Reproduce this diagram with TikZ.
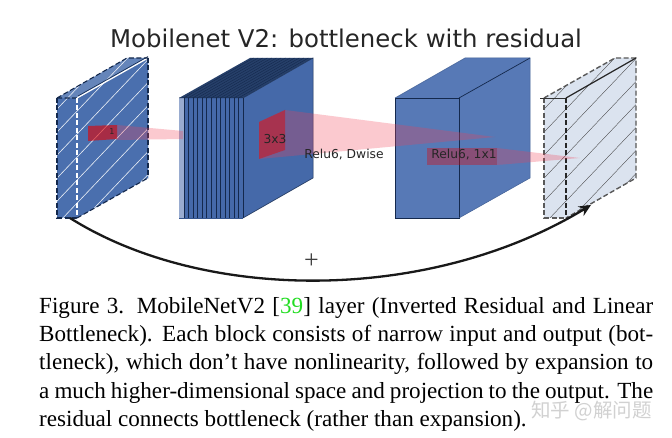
\documentclass[tikz,border=0pt]{standalone}
\usepackage{fontspec}
\usetikzlibrary{arrows.meta}
\setmainfont{Liberation Serif}
\setsansfont{DejaVu Sans}
\newfontfamily\cjkwm{Noto Sans CJK SC}
\definecolor{blueA}{HTML}{4A6FAE}
\definecolor{blueB}{HTML}{4569A9}
\definecolor{blueC}{HTML}{5779B6}
\definecolor{paleB}{HTML}{DBE3EF}
\definecolor{navy}{HTML}{14294D}
\definecolor{topdark}{HTML}{263F69}
\definecolor{pinkw}{HTML}{F43F55}
\definecolor{citeg}{HTML}{22DD22}
\tikzset{
  facedash/.style={draw=#1,dash pattern=on 5pt off 2.5pt,line width=1.1pt},
  solidedge/.style={draw=navy,line width=.7pt},
  hatchw/.style={draw=white!90!blueA,line width=.6pt},
  hatchk/.style={draw=black!75,line width=.35pt},
  wedge/.style={fill=pinkw,fill opacity=.28,draw=none},
  patch/.style={fill=red!90!black,fill opacity=.6,draw=none},
  lbl/.style={font=\sffamily\fontsize{12.3}{14}\selectfont,text=black!85,inner sep=0pt},
  capline/.style={anchor=base west,inner sep=0pt,font=\fontsize{23.1}{28}\selectfont}
}
\begin{document}
\begin{tikzpicture}[x=1pt,y=-1pt]
\useasboundingbox (0,0) rectangle (672,438);
\fill[white] (0,0) rectangle (672,438);

\node[inner sep=0pt,font=\sffamily\fontsize{24.4}{28}\selectfont,text=black!85] (title) at (346,38) {Mobilenet V2: bottleneck with residual};

% left block
\fill[blueA] (57,98) -- (77,98) -- (77,218) -- (57,218) -- cycle;
\fill[blueA] (77,98) -- (148,58) -- (148,178) -- (77,218) -- cycle;
\fill[blueA!85!white] (57,98) -- (127,58) -- (148,58) -- (77,98) -- cycle;
\begin{scope}
\clip (57,98) -- (127,58) -- (148,58) -- (148,178) -- (77,218) -- (57,218) -- cycle;
\foreach \k in {-2,...,9} \draw[hatchw] (40,{242-23*\k}) -- ++(140,-147);
\end{scope}
\draw[white,line width=1.3pt] (77,98) -- (148,58);
\draw[navy,line width=.6pt] (78,96) -- (148,56.5);
\draw[white!75!blueA,line width=1pt] (148,58) -- (148,178);
\draw[facedash=navy] (57,98) -- (57,218) -- (77,218);
\draw[facedash=navy] (57,98) -- (77,98) (57,98) -- (127,58) -- (148,58);
\draw[facedash=white] (77,98) -- (77,218);
\draw[facedash=navy] (77,218) -- (148,178);
\draw[facedash=navy] (148,58) -- (148,178);

% second block
\fill[topdark] (179,98) -- (250,58) -- (313,58) -- (243,98) -- cycle;
\foreach \k in {1,...,13} \draw[navy,line width=.4pt] ({179+64*\k/14},98) -- ++(70,-40);
\fill[blueB] (243,98) -- (313,58) -- (313,178) -- (243,218) -- cycle;
\fill[blueB] (179,98) rectangle (243,218);
\fill[white!45!blueB] (179,98) rectangle (184,218);
\foreach \k in {1,...,14} \draw[navy,line width=.55pt] ({184+(\k-1)*4.55},98) -- ++(0,120);
\draw[navy,line width=.5pt] (179,98) -- (243,98) -- (313,58) -- (313,178) -- (243,218);
\draw[blueB!70!navy,line width=.4pt] (179,218) -- (243,218);

% third block
\fill[blueC] (395,98) -- (465,58) -- (530,58) -- (530,178) -- (459,218) -- (395,218) -- cycle;
\draw[solidedge] (395,98) rectangle (459,218);
\draw[solidedge] (459,98) -- (530,58);
\draw[draw=blueC!70!navy,line width=.5pt] (395,98) -- (465,58) -- (530,58) -- (530,178) -- (459,218);

% right block
\fill[paleB] (544,98) -- (615,58) -- (636,58) -- (636,178) -- (566,218) -- (544,218) -- cycle;
\begin{scope}
\clip (544,98) -- (615,58) -- (636,58) -- (636,178) -- (566,218) -- (544,218) -- cycle;
\foreach \k in {-2,...,9} \draw[hatchk] (527,{242-23*\k}) -- ++(140,-147);
\end{scope}
\draw[facedash=black!65,line width=1.4pt] (544,98) -- (544,218) -- (566,218);
\draw[facedash=black!65,line width=1.4pt] (544,98) -- (615,58) -- (636,58) -- (636,178) -- (566,218);
\draw[black!85,line width=1.2pt] (566,98) -- (636,58);
\draw[black!80,line width=.9pt] (540,98) -- (566,98);
\draw[facedash=black!85,line width=1.4pt] (566,98) -- (566,218);

% red wedges and patches
\fill[wedge] (117,125) -- (183,131) -- (183,139) -- (117,140) -- cycle;
\fill[patch] (88,126) -- (117,125) -- (117,139) -- (88,141) -- cycle;
\fill[wedge] (285,110) -- (495,137) -- (259,159) -- (259,122) -- cycle;
\fill[patch,fill opacity=.45] (259,122) -- (285,110) -- (285,150) -- (259,159) -- cycle;
\fill[wedge] (497,148) -- (580,158) -- (497,165) -- cycle;
\fill[patch,fill opacity=.35] (427,148) -- (497,148) -- (497,165) -- (427,165) -- cycle;

% labels
\node[lbl,font=\sffamily\fontsize{8}{10}\selectfont] (one) at (112,132) {1};
\node[lbl] (k3) at (275,139.5) {3x3};
\node[lbl] (dw) at (344,154.5) {Relu6, Dwise};
\node[lbl] (ex) at (464,155) {Relu6, 1x1};

% residual arrow
\coordinate (resA) at (70,218);
\coordinate (resB) at (591,205);
\draw[-{Stealth[length=12pt,width=11pt,inset=4pt]},line width=2.3pt,black!90] (resA) .. controls (205,303) and (430,303) .. (resB);
\node[inner sep=0pt,font=\fontsize{26}{28}\selectfont,text=black!75] (plus) at (311.5,261.5) {+};

% caption
\node[capline] (c1) at (39,313) {\hbox to 614pt{Figure 3. MobileNetV2 [\textcolor{citeg}{39}] layer (Inverted Residual and Linear}};
\node[capline] (c2) at (39,341.4) {\hbox to 614pt{Bottleneck). Each block consists of narrow input and output (bot-}};
\node[capline] (c3) at (39,369.8) {\hbox to 614pt{tleneck), which don’t have nonlinearity, followed by expansion to}};
\node[capline] (c4) at (39,398.2) {\hbox to 614pt{a much higher-dimensional space and projection to the output. The}};
\node[capline] (c5) at (39,426.6) {residual connects bottleneck (rather than expansion).};

\node[inner sep=0pt,anchor=west,font=\cjkwm\fontsize{19.5}{22}\selectfont,text=black!18] (wm) at (531,411) {知乎 @解问题};
\end{tikzpicture}
\end{document}
